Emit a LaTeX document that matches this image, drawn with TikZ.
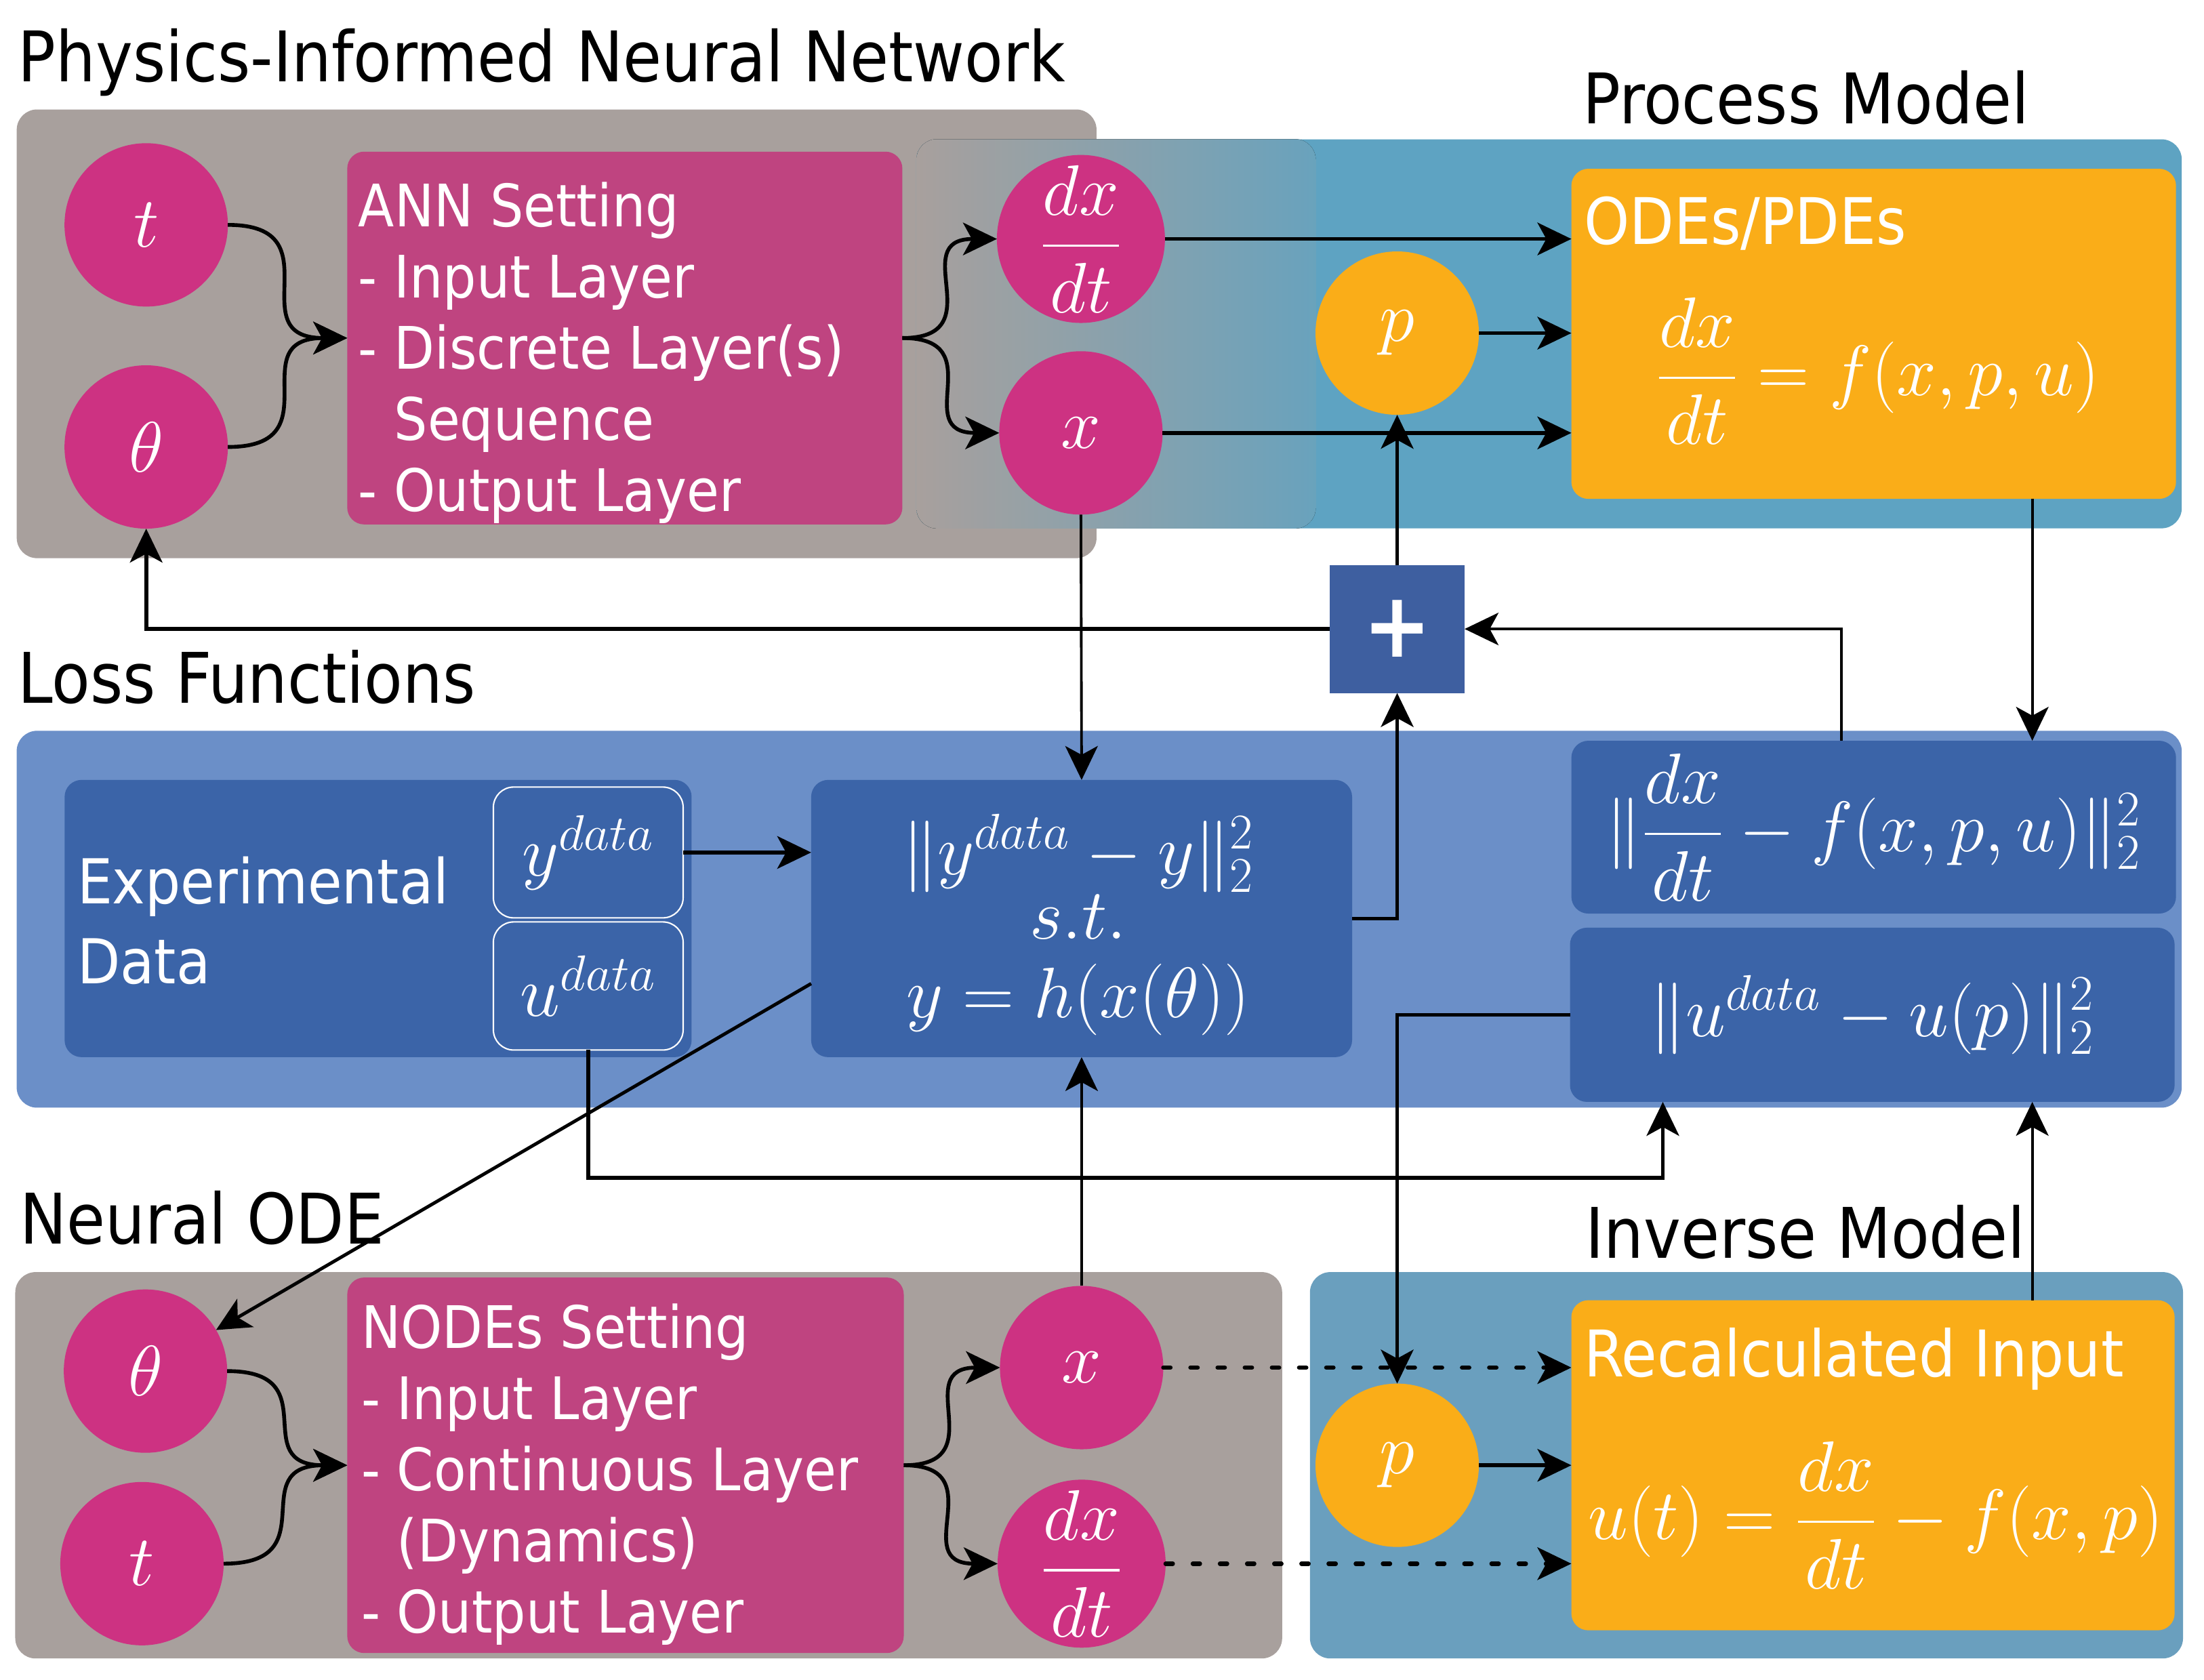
\RequirePackage{fix-cm}
\documentclass[tikz,border=0pt]{standalone}
\usepackage[no-math]{fontspec}
\setmainfont{DejaVu Sans Condensed}
\usepackage{amsmath}
\usetikzlibrary{arrows.meta,calc}

\definecolor{pinngray}{HTML}{A8A09D}
\definecolor{nodemag}{HTML}{CD3282}
\definecolor{setmag}{HTML}{BF4480}
\definecolor{procblue}{HTML}{5EA3C2}
\definecolor{invblue}{HTML}{6A9FBE}
\definecolor{lossblue}{HTML}{6B8FC8}
\definecolor{navy}{HTML}{3B64A8}
\definecolor{plusblue}{HTML}{3E5FA0}
\definecolor{modelorange}{HTML}{FAAD18}

\newcommand{\diagtitlefont}{\fontsize{29.3}{35}\selectfont}
\newcommand{\diagboxfont}{\fontsize{24.6}{29.9}\selectfont}
\newcommand{\diagmodelfont}{\fontsize{27}{32}\selectfont}
\newcommand{\diagmathfont}{\fontsize{30}{36}\selectfont}

\begin{document}
\begin{tikzpicture}[x=0.02074cm,y=-0.02074cm,
    every node/.style={inner sep=0pt,outer sep=0pt},
    group/.style={fill=#1,rounded corners=0.3cm},
    block/.style={fill=#1,rounded corners=0.25cm,text=white},
    var/.style={circle,fill=#1,minimum size=2.41cm,text=white,font=\diagmathfont},
    heading/.style={anchor=base west,font=\diagtitlefont},
    blocktext/.style={anchor=base west,align=left,text=white,font=\diagboxfont},
    databox/.style={draw=white,line width=0.6pt,rounded corners=0.3cm,minimum width=2.80cm,text=white,font=\diagmathfont},
    conn/.style={line width=1.6pt,-{Stealth[length=5mm,width=4.8mm,inset=1.3mm]}},
    curveconn/.style={conn,out=0,in=180,looseness=1.7},
    thinconn/.style={conn,line width=1.1pt},
    dashconn/.style={conn,line width=1.8pt,line cap=round,dash pattern=on 3pt off 8.4pt},
  ]
  \useasboundingbox (0,0) rectangle (1568,1195);

  \node[group=pinngray,minimum width=15.93cm,minimum height=6.62cm] (pinngrp) at (396,237.5) {};
  \node[group=procblue,minimum width=18.67cm,minimum height=5.74cm] (procgrp) at (1102,237.5) {};
  \fill[left color=pinngray,right color=procblue!85!pinngray,rounded corners=0.3cm] (652,99) rectangle (936,376);
  \node[group=lossblue,minimum width=31.94cm,minimum height=5.56cm] (lossgrp) at (782,654) {};
  \node[group=pinngray,minimum width=18.69cm,minimum height=5.70cm] (nodegrp) at (461.5,1042.5) {};
  \node[group=invblue,minimum width=12.88cm,minimum height=5.70cm] (invgrp) at (1242.5,1042.5) {};

  \node[heading] (pinnlabel) at (13,58) {Physics-Informed Neural Network};
  \node[heading] (proclabel) at (1126,88) {Process Model};
  \node[heading] (losslabel) at (13,500) {Loss Functions};
  \node[heading] (nodelabel) at (14,885) {Neural ODE};
  \node[heading] (invlabel) at (1128,895) {Inverse Model};

  % physics-informed network
  \node[var=nodemag] (t1) at (104,160) {$t$};
  \node[var=nodemag] (theta1) at (104,318) {$\theta$};
  \node[block=setmag,minimum width=8.19cm,minimum height=5.50cm] (ann) at (444.5,240.5) {};
  \node[blocktext] (anntext) at (255,363.8) {ANN Setting\\- Input Layer\\- Discrete Layer(s)\\\phantom{- }Sequence\\- Output Layer};
  \node[var=nodemag] (dxdt1) at (769,170) {$\dfrac{dx}{dt}$};
  \node[var=nodemag] (x1) at (769,308) {$x$};
  \node[var=modelorange] (p1) at (994,237) {$p$};
  \node[block=modelorange,minimum width=8.92cm,minimum height=4.87cm] (ode) at (1333,237.5) {};
  \node[blocktext,font=\diagmodelfont] (odetitle) at (1127,174) {ODEs/PDEs};
  \node[text=white,font=\diagmathfont] (odeeq) at (1336,264) {$\dfrac{dx}{dt}=f(x,p,u)$};
  \node[fill=plusblue,minimum width=1.99cm,minimum height=1.89cm,text=white,font=\fontsize{38}{38}\selectfont\bfseries] (plus) at (994,447.5) {+};

  % loss functions
  \node[block=navy,minimum width=9.25cm,minimum height=4.09cm] (expdata) at (269,653.5) {};
  \node[blocktext,font=\fontsize{26}{33.6}\selectfont] (exptext) at (55,699.7) {Experimental\\Data};
  \node[databox,minimum height=1.93cm] (ydata) at (418.5,606.5) {$y^{data}$};
  \node[databox,minimum height=1.89cm] (udata) at (418.5,701.5) {$u^{data}$};
  \node[block=navy,minimum width=7.98cm,minimum height=4.09cm] (loss1) at (769.5,653.5) {};
  \node[align=center,text=white,font=\fontsize{30}{27}\selectfont] (loss1text) at (767,658) {$\|y^{data}-y\|_2^2$\\$s.t.$\\[6pt]$y=h(x(\theta))$};
  \node[block=navy,minimum width=8.92cm,minimum height=2.55cm,font=\diagmathfont] (loss2) at (1333,588.5) {$\|\dfrac{dx}{dt}-f(x,p,u)\|_2^2$};
  \node[block=navy,minimum width=8.92cm,minimum height=2.57cm,font=\diagmathfont] (loss3) at (1332,722) {$\|u^{data}-u(p)\|_2^2$};

  % neural ODE and inverse model
  \node[var=nodemag] (theta2) at (103.5,975.5) {$\theta$};
  \node[var=nodemag] (t2) at (101,1112.5) {$t$};
  \node[block=setmag,minimum width=8.21cm,minimum height=5.54cm] (ndes) at (445,1042.5) {};
  \node[blocktext] (ndestext) at (257,1161.8) {NODEs Setting\\- Input Layer\\- Continuous Layer\\\phantom{- }(Dynamics)\\- Output Layer};
  \node[var=nodemag] (x2) at (769.5,973) {$x$};
  \node[var=nodemag] (dxdt2) at (769.5,1112.5) {$\dfrac{dx}{dt}$};
  \node[var=modelorange] (p2) at (994,1042.5) {$p$};
  \node[block=modelorange,minimum width=8.90cm,minimum height=4.87cm] (rec) at (1332.5,1042.5) {};
  \node[blocktext,font=\diagmodelfont] (rectitle) at (1127,979.5) {Recalculated Input};
  \node[text=white,font=\diagmathfont] (receq) at (1334.5,1078) {$u(t)=\dfrac{dx}{dt}-f(x,p)$};

  \draw[curveconn] (t1.east) to (ann.west);
  \draw[curveconn] (theta1.east) to (ann.west);
  \draw[curveconn] (ann.east) to (dxdt1.west);
  \draw[curveconn] (ann.east) to (x1.west);
  \draw[conn] (dxdt1.east) -- (dxdt1.east -| ode.west);
  \draw[conn] (p1.east) -- (p1.east -| ode.west);
  \draw[conn] (x1.east) -- (x1.east -| ode.west);
  \draw[thinconn] (x1.south) -- (loss1.north);
  \coordinate (odetap) at ([xshift=2.34cm]ode.south);
  \draw[thinconn] (odetap) -- (odetap |- loss2.north);
  \coordinate (loss2tap) at ([xshift=-0.48cm]loss2.north);
  \draw[thinconn] (loss2tap) |- (plus.east);
  \draw[conn] (loss1.east) -| (plus.south);
  \draw[conn] (plus.north) -- (p1.south);
  \draw[conn] (plus.west) -| (theta1.south);
  \draw[conn] (ydata.east) -- (ydata.east -| loss1.west);
  \coordinate (loss3tap) at ([xshift=-3.09cm]loss3.south);
  \draw[conn] (udata.south) -- ++(0,91) -| (loss3tap);
  \coordinate (loss1tap) at ([yshift=-0.96cm]loss1.west);
  \draw[conn,line width=1.4pt] (loss1tap) -- (theta2);
  \draw[thinconn] (x2.north) -- (loss1.south);
  \draw[conn] (loss3.west) -| (p2.north);
  \coordinate (rectap) at ([xshift=2.35cm]rec.north);
  \draw[thinconn] (rectap) -- (rectap |- loss3.south);
  \draw[curveconn] (theta2.east) to (ndes.west);
  \draw[curveconn] (t2.east) to (ndes.west);
  \draw[curveconn] (ndes.east) to (x2.west);
  \draw[curveconn] (ndes.east) to (dxdt2.west);
  \draw[dashconn] (x2.east) -- (x2.east -| rec.west);
  \draw[dashconn] (dxdt2.east) -- (dxdt2.east -| rec.west);
  \draw[conn] (p2.east) -- (p2.east -| rec.west);
\end{tikzpicture}
\end{document}
